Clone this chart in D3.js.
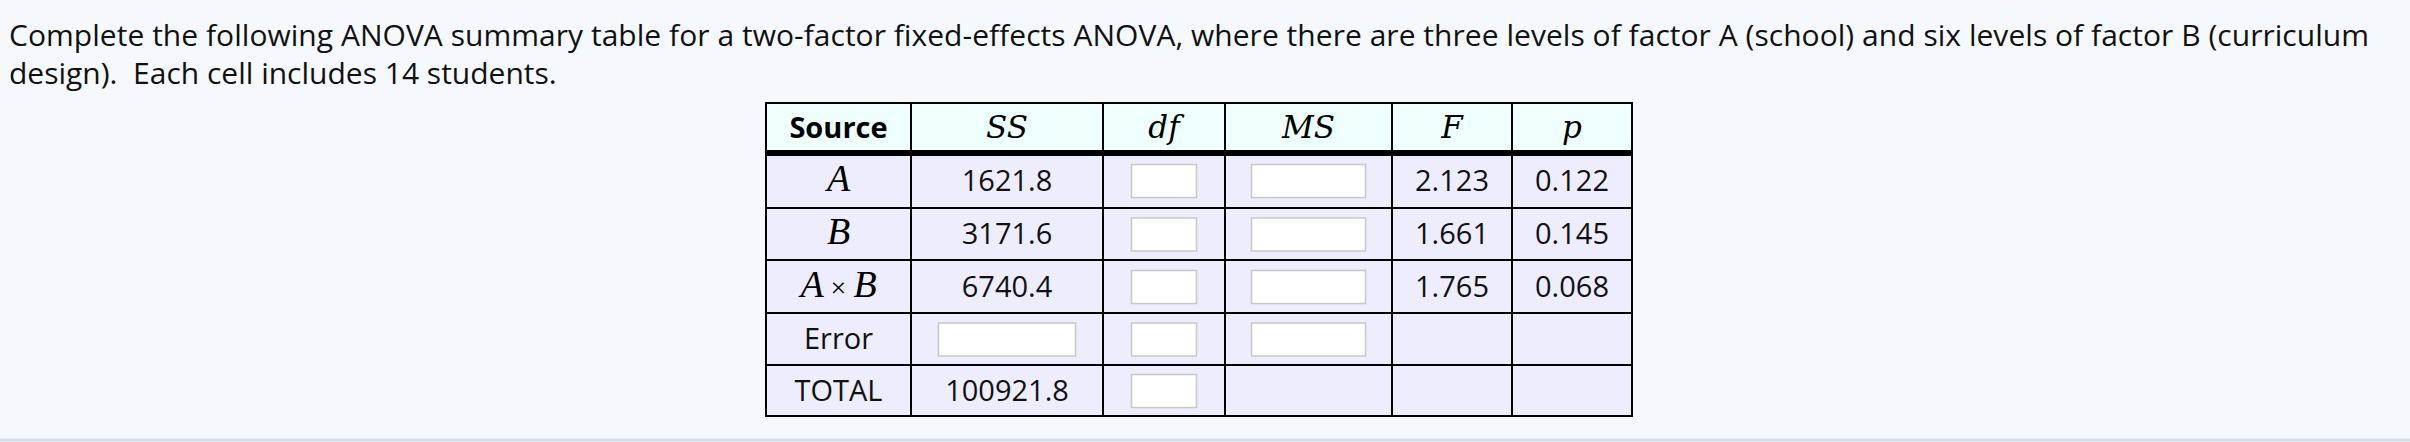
<!DOCTYPE html>
<html><head><meta charset="utf-8">
<script src="https://cdn.jsdelivr.net/npm/d3@7"></script>
<style>body{margin:0;background:#f5f9fe;}</style></head>
<body><svg id="c" width="2410" height="442"></svg>
<script>
const promptLines = ["Complete the following ANOVA summary table for a two-factor fixed-effects ANOVA, where there are three levels of factor A (school) and six levels of factor B (curriculum",
 "design).  Each cell includes 14 students."];
const headers = ["Source","SS","df","MS","F","p"];
const sources = ["A","B","A × B","Error","TOTAL"];
const ssValues = ["1621.8","3171.6","6740.4",null,"100921.8"];
const fValues = ["2.123","1.661","1.765","",""];
const pValues = ["0.122","0.145","0.068","",""];
// which cells are input boxes: [ss, df, ms]
const inputs = [[false,true,true],[false,true,true],[false,true,true],[true,true,true],[false,true,false]];

const svg = d3.select("#c");
svg.append("rect").attr("width",2410).attr("height",442).attr("fill","#f5f9fe");
svg.append("line").attr("x1",0).attr("x2",2410).attr("y1",440).attr("y2",440).attr("stroke","#d5dde6").attr("stroke-width",3);
svg.selectAll("text.p").data(promptLines).join("text").attr("x",9).attr("y",(d,i)=>46+i*38)
 .attr("font-family","Open Sans").attr("font-size",30).attr("fill","#111").style("white-space","pre").attr("textLength",(d,i)=>i==0?2360:null).text(d=>d);

const colEdges=[766,911,1103,1225,1392,1512,1632];
const x = d3.scaleOrdinal().domain(d3.range(7)).range(colEdges);
const rowEdges=[103,153,208,260,313,365,416];
const y = d3.scaleOrdinal().domain(d3.range(7)).range(rowEdges);
const boxW=[137,65,114];
const g=svg.append("g");
g.append("rect").attr("x",x(0)).attr("y",y(0)).attr("width",x(6)-x(0)).attr("height",y(1)-y(0)).attr("fill","#effffe");
g.append("rect").attr("x",x(0)).attr("y",y(1)).attr("width",x(6)-x(0)).attr("height",y(6)-y(1)).attr("fill","#ededfd");
const serif={"SS":1,"df":1,"MS":1,"F":1,"p":1};
headers.forEach((h,i)=>{
  const t=g.append("text").attr("x",(x(i)+x(i+1))/2).attr("y",(y(0)+y(1))/2+10).attr("text-anchor","middle").attr("fill","#000");
  if(serif[h]) t.attr("font-family","DejaVu Serif").attr("font-style","italic").attr("font-size",31).text(h);
  else t.attr("font-family","Open Sans").attr("font-weight","bold").attr("font-size",29).text(h);
});
function cellText(col,row,txt,math){
  const t=g.append("text").attr("x",(x(col)+x(col+1))/2).attr("y",(y(row+1)+y(row+2))/2+10).attr("text-anchor","middle").attr("fill","#111");
  if(math){t.attr("font-family","Liberation Serif").attr("font-size",38).attr("font-style","italic").attr("fill","#000");
    if(txt.includes("×")){t.text(null);t.append("tspan").text("A");t.append("tspan").attr("font-style","normal").attr("font-size",28).text(" × ");t.append("tspan").text("B");}else t.text(txt);}
  else t.attr("font-family","Open Sans").attr("font-size",29).text(txt);
}
function box(col,row){
  const cx=(x(col)+x(col+1))/2, w=boxW[col-1], cy=(y(row+1)+y(row+2))/2;
  g.append("rect").attr("x",cx-w/2).attr("y",cy-16).attr("width",w).attr("height",33).attr("fill","#fff").attr("stroke","#c8c8c8").attr("stroke-width",1.5);
}
sources.forEach((s,r)=>{
  cellText(0,r,s,r<3);
  if(inputs[r][0]) box(1,r); else cellText(1,r,ssValues[r]);
  if(inputs[r][1]) box(2,r);
  if(inputs[r][2]) box(3,r);
  cellText(4,r,fValues[r]); cellText(5,r,pValues[r]);
});
d3.range(7).forEach(i=>{
  g.append("line").attr("x1",x(i)).attr("x2",x(i)).attr("y1",y(0)).attr("y2",y(6)).attr("stroke","#000").attr("stroke-width",2);
  g.append("line").attr("x1",x(0)-1).attr("x2",x(6)+1).attr("y1",y(i)).attr("y2",y(i)).attr("stroke","#000").attr("stroke-width",i==1?6:2);
});
</script></body></html>
